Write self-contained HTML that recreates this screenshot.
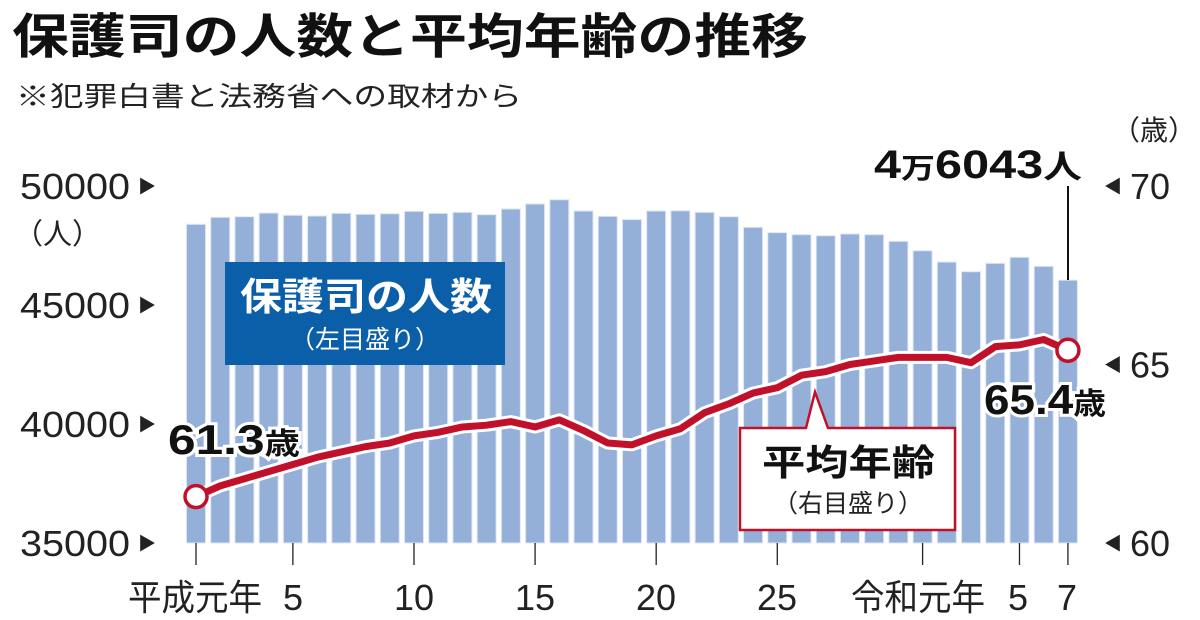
<!DOCTYPE html>
<html><head><meta charset="utf-8"><style>
body{margin:0;background:#fff;}
svg{display:block;font-family:"Liberation Sans","Noto Sans CJK JP",sans-serif;}
</style></head><body>
<svg id="chart" width="1200" height="620" viewBox="0 0 1200 620">
<text x="12" y="53" font-size="48" font-weight="bold" fill="#111" textLength="796" lengthAdjust="spacingAndGlyphs">保護司の人数と平均年齢の推移</text>
<text x="16" y="106" font-size="27" fill="#222" textLength="506" lengthAdjust="spacingAndGlyphs">※犯罪白書と法務省への取材から</text>
<text x="1112" y="140" font-size="28" fill="#222">（歳）</text>
<text x="14" y="244" font-size="29" fill="#222">（人）</text>
<g id="bars"></g>
<g id="ticks"></g>
<rect x="225" y="262" width="280" height="103" fill="#0b5fa8"/>
<text x="240" y="310" font-size="38" font-weight="bold" fill="#fff" textLength="252" lengthAdjust="spacingAndGlyphs">保護司の人数</text>
<text x="365" y="348" font-size="25" fill="#fff" text-anchor="middle">（左目盛り）</text>
<g id="line"></g>
<polygon points="740,428 806,428 815,392 828,428 955,428 955,530 740,530" fill="#fff" stroke="#c0102a" stroke-width="2.5"/>
<text x="762" y="475" font-size="36" font-weight="bold" fill="#111" textLength="173" lengthAdjust="spacingAndGlyphs">平均年齢</text>
<text x="848" y="512" font-size="25" fill="#222" text-anchor="middle">（右目盛り）</text>
<text x="168" y="454" font-size="42" font-weight="bold" fill="#111" stroke="#fff" stroke-width="6" paint-order="stroke" textLength="132" lengthAdjust="spacingAndGlyphs">61.3<tspan font-size="30">歳</tspan></text>
<text x="984" y="414" font-size="42" font-weight="bold" fill="#111" stroke="#fff" stroke-width="6" paint-order="stroke" textLength="122" lengthAdjust="spacingAndGlyphs">65.4<tspan font-size="30">歳</tspan></text>
<text x="874" y="178" font-size="40" font-weight="bold" fill="#111" textLength="208" lengthAdjust="spacingAndGlyphs">4<tspan font-size="28">万</tspan>6043<tspan font-size="32">人</tspan></text>
<line x1="1068" y1="186" x2="1068" y2="280" stroke="#111" stroke-width="2"/>
</svg>
<script>
const years=["平成元年","2","3","4","5","6","7","8","9","10","11","12","13","14","15","16","17","18","19","20","21","22","23","24","25","26","27","28","29","30","令和元年","2","3","4","5","6","7"];
const counts=[48390,48685,48710,48865,48770,48740,48850,48810,48835,48935,48850,48895,48795,49035,49245,49425,48950,48725,48590,48950,48960,48895,48710,48265,48040,47955,47910,47985,47955,47675,47280,46805,46400,46750,47005,46625,46043];
const ages=[61.3,61.6,61.8,62.0,62.2,62.4,62.55,62.7,62.8,63.0,63.1,63.25,63.3,63.4,63.25,63.45,63.15,62.8,62.75,63.0,63.2,63.65,63.9,64.2,64.35,64.7,64.8,65.0,65.1,65.2,65.2,65.2,65.05,65.5,65.55,65.7,65.4];
const tickIdx=[0,4,9,14,19,24,30,34,36];
const leftTicks=[50000,45000,40000,35000];
const rightTicks=[70,65,60];
const NS="http://www.w3.org/2000/svg";
const x=i=>196+i*24.22;
const yL=v=>543-(v-35000)*(357/15000);
const yR=v=>543-(v-60)*35.7;
function mk(t,a,p){const e=document.createElementNS(NS,t);for(const k in a)e.setAttribute(k,a[k]);p.appendChild(e);return e;}
const gb=document.getElementById('bars');
counts.forEach((c,i)=>{
 const r=mk('rect',{x:x(i)-9.5,y:yL(c),width:19,height:543-yL(c),fill:'#94b0d8',stroke:'#dde7f4','stroke-width':1},gb);
 
 
});
const gt=document.getElementById('ticks');
tickIdx.forEach(i=>{
 const l=mk('line',{x1:x(i),y1:543,x2:x(i),y2:565,stroke:'#222','stroke-width':1.3},gt);
 
 
});
const xl=[["平成元年",128,"start",134],["5",293,"middle",0],["10",414,"middle",0],["15",535,"middle",0],["20",656,"middle",0],["25",777,"middle",0],["令和元年",851,"start",134],["5",1018,"middle",0],["7",1067,"middle",0]];
xl.forEach(d=>{
 const a={x:d[1],y:610,'font-size':36,fill:'#222','text-anchor':d[2]};
 if(d[3]){a.textLength=d[3];a.lengthAdjust='spacingAndGlyphs';}
 const t=mk('text',a,gt);
 t.textContent=d[0];
 
 
});
leftTicks.forEach(v=>{
 const t=mk('text',{x:20,y:yL(v)+13,'font-size':36,fill:'#222',textLength:110,lengthAdjust:'spacingAndGlyphs'},gt);
 t.textContent=v;
 
 
 const a=mk('text',{x:138,y:yL(v)+7,'font-size':18,fill:'#222'},gt);
 a.textContent='▶';
 
 
});
rightTicks.forEach(v=>{
 const a=mk('text',{x:1104,y:yR(v)+7,'font-size':18,fill:'#222'},gt);
 a.textContent='◀';
 
 
 const t=mk('text',{x:1130,y:yR(v)+13,'font-size':36,fill:'#222'},gt);
 t.textContent=v;
 
 
});
const gl=document.getElementById('line');
const pts=ages.map((a,i)=>x(i)+','+yR(a)).join(' ');
const w=mk('polyline',{points:pts,fill:'none',stroke:'#fff','stroke-width':13,'stroke-linejoin':'round'},gl);


const pl=mk('polyline',{points:pts,fill:'none',stroke:'#c0102a','stroke-width':7,'stroke-linejoin':'round'},gl);


[0,ages.length-1].forEach(i=>{
 const c=mk('circle',{cx:x(i),cy:yR(ages[i]),r:11,fill:'#fff',stroke:'#c0102a','stroke-width':3.5},gl);
 
 
});
</script>
</body></html>
